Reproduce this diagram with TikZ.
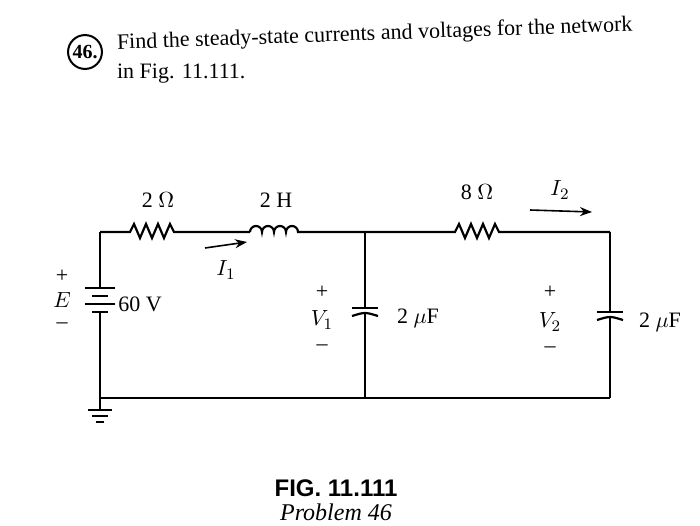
\documentclass[tikz,border=0pt]{standalone}
\usepackage{fontspec}
\setmainfont{Liberation Serif}
\newfontfamily\figfont{Liberation Sans}
\usetikzlibrary{decorations.pathmorphing,arrows.meta}
\begin{document}
\begin{tikzpicture}[x=0.5pt,y=-0.5pt,
  wire/.style={line width=1.1pt,black},
  lbl/.style={font=\fontsize{11}{13}\selectfont},
  cur/.style={line width=0.8pt,-{Stealth[length=6pt]}}]
\useasboundingbox (0,0) rectangle (700,525);
\fill[white] (0,0) rectangle (700,525);
% header
\node[draw,circle,line width=1pt,inner sep=1pt,font=\bfseries\fontsize{10}{12}\selectfont] (num) at (85,52) {46.};
\node[anchor=west,font=\fontsize{11}{13}\selectfont,rotate=2] (t1) at (110,44) {Find the steady-state currents and voltages for the network};
\node[anchor=west,font=\fontsize{11}{13}\selectfont] (t2) at (110,74) {in Fig. 11.111.};
% coordinates
\coordinate (tl) at (100,232);
\coordinate (bl) at (100,398);
\coordinate (tr) at (610,232);
\coordinate (br) at (610,398);
\coordinate (mt) at (365,232);
\coordinate (mb) at (365,398);
% top wire with resistor and inductor
\draw[wire] (tl) -- (130,232)
  -- (134,224) -- (140,238) -- (146,224) -- (152,238) -- (158,224) -- (164,238) -- (170,224) -- (174,232)
  -- (250,232);
\draw[wire] (250,232) arc (180:360:6) arc (180:360:6) arc (180:360:6) arc (180:360:6) -- (305,232) -- (mt);
\draw[wire] (mt) -- (455,232)
  -- (459,224) -- (465,238) -- (471,224) -- (477,238) -- (483,224) -- (489,238) -- (495,224) -- (499,232)
  -- (tr);
% left branch with battery
\draw[wire] (tl) -- (100,288);
\draw[wire] (85,288) -- (115,288);
\draw[wire] (92,296) -- (108,296);
\draw[wire] (85,304) -- (115,304);
\draw[wire] (92,312) -- (108,312);
\draw[wire] (100,312) -- (bl) -- (100,402);
% ground
\draw[wire] (100,402) -- (100,410);
\draw[wire] (88,410) -- (112,410);
\draw[wire] (92,416) -- (108,416);
\draw[wire] (96,422) -- (104,422);
% bottom wire
\draw[wire] (bl) -- (br);
% middle capacitor
\draw[wire] (mt) -- (365,308);
\draw[wire] (352,308) -- (378,308);
\draw[wire] (352,316) .. controls (365,312) .. (378,316);
\draw[wire] (365,314) -- (mb);
% right capacitor
\draw[wire] (tr) -- (610,312);
\draw[wire] (597,312) -- (623,312);
\draw[wire] (597,320) .. controls (610,316) .. (623,320);
\draw[wire] (610,318) -- (br);
% labels
\node[lbl] (r1) at (158,200) {2 $\Omega$};
\node[lbl] (l1) at (276,200) {2 H};
\node[lbl] (r2) at (477,192) {8 $\Omega$};
\node[lbl] (i2) at (560,190) {$I_2$};
\coordinate (i2a) at (530,210); \coordinate (i2b) at (592,212);
\draw[cur] (i2a) -- (i2b);
\node[lbl] (i1) at (226,270) {$I_1$};
\coordinate (i1a) at (205,248); \coordinate (i1b) at (247,242);
\draw[cur] (i1a) -- (i1b);
\node[lbl,inner sep=1pt] (ep) at (62,276) {+};
\node[lbl,inner sep=1pt] (e) at (62,300) {$E$};
\node[lbl,inner sep=1pt] (em) at (62,326) {--};
\node[lbl] (v60) at (140,304) {60 V};
\node[lbl] (v1p) at (322,292) {+};
\node[lbl] (v1) at (322,320) {$V_1$};
\node[lbl] (v1m) at (322,348) {--};
\node[lbl] (c1) at (418,318) {2 $\mu$F};
\node[lbl] (v2p) at (550,292) {+};
\node[lbl] (v2) at (550,322) {$V_2$};
\node[lbl] (v2m) at (550,350) {--};
\node[lbl] (c2) at (660,322) {2 $\mu$F};
% caption
\node[font=\figfont\bfseries\fontsize{12}{14}\selectfont] (fig) at (336,488) {FIG. 11.111};
\node[font=\itshape\fontsize{12}{14}\selectfont] (prob) at (336,512) {Problem 46};
\end{tikzpicture}
\end{document}
